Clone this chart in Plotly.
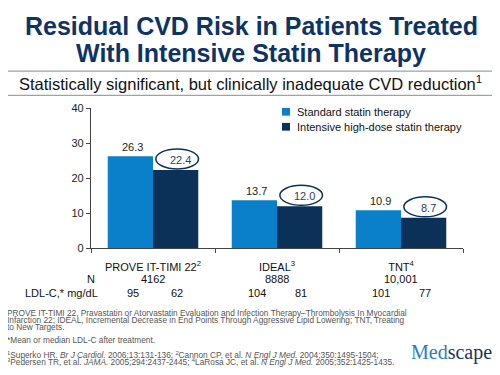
import plotly.graph_objects as go

categories = ["PROVE IT-TIMI 22", "IDEAL", "TNT"]
cat_sup = ["2", "3", "4"]
series_names = ["Standard statin therapy", "Intensive high-dose statin therapy"]
standard = [26.3, 13.7, 10.9]
intensive = [22.4, 12.0, 8.7]
n_values = ["4162", "8888", "10,001"]
ldl_standard = ["95", "104", "101"]
ldl_intensive = ["62", "81", "77"]
y_ticks = [0, 10, 20, 30, 40]

C_STD = "#0a7fca"
C_INT = "#0b3159"
C_TITLE = "#0e3466"
FONT = "Liberation Sans, Arial, sans-serif"

W, H = 500, 375
OFF = 8  # page body margin offset
def px(x):
    return (x - OFF) / W
def py(y):
    return 1 - (y - OFF) / H

cat_labels = [f"{c}<sup>{s}</sup>" for c, s in zip(categories, cat_sup)]

fig = go.Figure()
fig.add_trace(go.Bar(x=cat_labels, y=standard, name=series_names[0],
                     marker=dict(color=C_STD, line=dict(width=0))))
fig.add_trace(go.Bar(x=cat_labels, y=intensive, name=series_names[1],
                     marker=dict(color=C_INT, line=dict(width=0))))

annotations = []
shapes = []

# value labels
for i, v in enumerate(standard):
    annotations.append(dict(x=i - 0.165, y=v, xref="x", yref="y", text=f"{v:.1f}",
                            showarrow=False, yanchor="bottom", yshift=1,
                            font=dict(size=11, color="#222", family=FONT)))
for i, v in enumerate(intensive):
    shapes.append(dict(type="circle", xref="x", yref="y",
                       x0=i + 0.195 - 0.172, x1=i + 0.195 + 0.172,
                       y0=v + 0.3, y1=v + 6.0,
                       line=dict(color=C_INT, width=1.5)))
    annotations.append(dict(x=i + 0.22, y=v + 3.15, xref="x", yref="y", text=f"{v:.1f}",
                            showarrow=False, yanchor="middle", yshift=-1,
                            font=dict(size=11, color="#2a3f5c", family=FONT)))

# N and LDL rows
annotations.append(dict(x=px(97), y=py(282), xref="paper", yref="paper", text="N",
                        showarrow=False, xanchor="right", yanchor="middle",
                        font=dict(size=11, color="#111", family=FONT)))
annotations.append(dict(x=px(100), y=py(296.5), xref="paper", yref="paper", text="LDL-C,* mg/dL",
                        showarrow=False, xanchor="right", yanchor="middle",
                        font=dict(size=11, color="#111", family=FONT)))
for i, nv in enumerate(n_values):
    annotations.append(dict(x=i, y=py(282), xref="x", yref="paper", text=nv,
                            showarrow=False, yanchor="middle",
                            font=dict(size=11, color="#111", family=FONT)))
for i, (a, b) in enumerate(zip(ldl_standard, ldl_intensive)):
    annotations.append(dict(x=i - 0.165, y=py(296.5), xref="x", yref="paper", text=a,
                            showarrow=False, yanchor="middle",
                            font=dict(size=11, color="#111", family=FONT)))
    annotations.append(dict(x=i + 0.19, y=py(296.5), xref="x", yref="paper", text=b,
                            showarrow=False, yanchor="middle",
                            font=dict(size=11, color="#111", family=FONT)))

# legend
for k, (nm, col) in enumerate(zip(series_names, [C_STD, C_INT])):
    yc = 109 + k * 15.5
    shapes.append(dict(type="rect", xref="paper", yref="paper",
                       x0=px(282), x1=px(290), y0=py(yc + 4), y1=py(yc - 4),
                       fillcolor=col, line=dict(width=0)))
    annotations.append(dict(x=px(295), y=py(yc), xref="paper", yref="paper", text=nm,
                            showarrow=False, xanchor="left", yanchor="middle",
                            font=dict(size=11, color="#111", family=FONT)))

# titles
annotations.append(dict(x=px(251), y=py(20), xref="paper", yref="paper",
                        text="<b>Residual CVD Risk in Patients Treated</b>",
                        showarrow=False, yanchor="middle",
                        font=dict(size=25, color=C_TITLE, family=FONT)))
annotations.append(dict(x=px(251), y=py(48), xref="paper", yref="paper",
                        text="<b>With Intensive Statin Therapy</b>",
                        showarrow=False, yanchor="middle",
                        font=dict(size=25, color=C_TITLE, family=FONT)))
annotations.append(dict(x=px(250), y=py(79), xref="paper", yref="paper",
                        text="Statistically significant, but clinically inadequate CVD reduction<sup>1</sup>",
                        showarrow=False, yanchor="middle",
                        font=dict(size=16.5, color="#111", family=FONT)))
for yl in (67, 92):
    shapes.append(dict(type="line", xref="paper", yref="paper", x0=px(0), x1=px(500),
                       y0=py(yl), y1=py(yl), line=dict(color="#8a8a8a", width=1)))

# footnotes
foot = [
    (317, "PROVE IT-TIMI 22, Pravastatin or Atorvastatin Evaluation and Infection Therapy\u2013Thrombolysis In Myocardial"),
    (324, "Infarction 22; IDEAL, Incremental Decrease in End Points Through Aggressive Lipid Lowering; TNT, Treating"),
    (331, "to New Targets."),
    (345, "*Mean or median LDL-C after treatment."),
    (360, "<sup>1</sup>Superko HR. <i>Br J Cardiol.</i> 2006;13:131-136; <sup>2</sup>Cannon CP, et al. <i>N Engl J Med.</i> 2004;350:1495-1504;"),
    (367.5, "<sup>3</sup>Pedersen TR, et al. <i>JAMA.</i> 2005;294:2437-2445; <sup>4</sup>LaRosa JC, et al. <i>N Engl J Med.</i> 2005;352:1425-1435."),
]
for yy, t in foot:
    annotations.append(dict(x=px(5), y=py(yy), xref="paper", yref="paper", text=t,
                            showarrow=False, xanchor="left", yanchor="middle",
                            font=dict(size=8.3, color="#555", family=FONT)))

# logo
annotations.append(dict(x=px(494), y=py(358), xref="paper", yref="paper",
                        text="<span style='color:#2f7cc0'>Med</span><span style='color:#1b3558'>scape</span>",
                        showarrow=False, xanchor="right", yanchor="middle",
                        font=dict(size=20, family="Liberation Serif, Times New Roman, serif")))

fig.update_layout(
    width=W, height=H, autosize=False,
    margin=dict(l=0, r=0, t=0, b=0),
    paper_bgcolor="white", plot_bgcolor="white",
    showlegend=False,
    barmode="group", bargap=0.27, bargroupgap=0,
    font=dict(family=FONT, size=11, color="#111"),
    xaxis=dict(domain=[px(91), px(463)], showline=True, linecolor="#444", linewidth=1.3,
               ticks="outside", ticklen=4, tickcolor="#444", tickson="boundaries",
               ticklabelstandoff=8,
               showgrid=False, zeroline=False, tickfont=dict(size=11, color="#111")),
    yaxis=dict(domain=[py(250), py(105.5)], range=[0, 40], tickvals=y_ticks,
               showline=True, linecolor="#444", linewidth=1.3,
               ticks="outside", ticklen=4, tickcolor="#444",
               showgrid=False, zeroline=False, tickfont=dict(size=11, color="#222")),
    annotations=annotations, shapes=shapes,
)

fig.write_html("out.html")
